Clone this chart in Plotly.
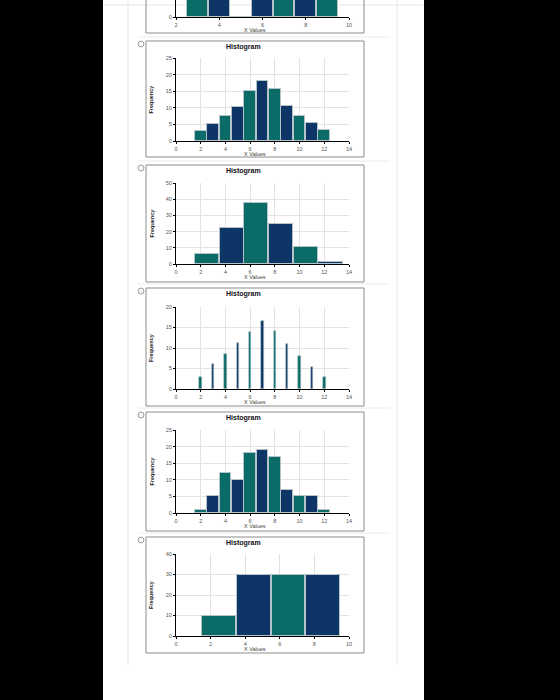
import plotly.graph_objects as go

# values (bin centres and frequencies per histogram)
p0_x = [3, 4, 5, 6, 7, 8, 9]
p0_y = [20, 22, 0, 24, 26, 24, 22]     # tops are cut off in the picture

p1_x = [2, 3, 4, 5, 6, 7, 8, 9, 10, 11, 12]
p1_y = [3, 5, 7.4, 10.1, 15.1, 18, 15.7, 10.4, 7.6, 5.4, 3.2]

p2_x = [2.5, 4.5, 6.5, 8.5, 10.5, 12.5]
p2_y = [6, 22, 37.4, 24.4, 10.2, 1.2]

p3_x = [2, 3, 4, 5, 6, 7, 8, 9, 10, 11, 12]
p3_y = [3, 6.2, 8.5, 11.1, 14, 16.6, 14.2, 11, 8, 5.4, 3]

p4_x = [2, 3, 4, 5, 6, 7, 8, 9, 10, 11, 12]
p4_y = [1, 5, 12, 10, 18, 19, 17, 7, 5, 5, 1]

p5_x = [2.5, 4.5, 6.5, 8.5]
p5_y = [10, 30, 30, 30]

TEAL = "#0b6b67"
NAVY = "#0d3566"
W, H = 560, 700


def fx(px):
    return px / W


def fy(py):
    return 1 - py / H


# (x, y, bar width, x range, y range, y dtick, box top, box bottom, plot top, plot bottom)
panels = [
    (p0_x, p0_y, 0.95, [2, 10], [0, 8.2], 10, -83, 33, -66, 17),
    (p1_x, p1_y, 0.95, [0, 14], [0, 25], 5, 41, 157, 58, 141),
    (p2_x, p2_y, 1.95, [0, 14], [0, 50], 10, 165, 282, 183, 264),
    (p3_x, p3_y, 0.2, [0, 14], [0, 20], 5, 288, 406, 307, 389),
    (p4_x, p4_y, 0.95, [0, 14], [0, 25], 5, 412, 531, 430, 513),
    (p5_x, p5_y, 1.95, [0, 10], [0, 40], 10, 537, 653, 554, 636),
]

fig = go.Figure()
shapes = []
annotations = []
lay = {}

# page: black sides, white sheet, faint container lines
shapes.append(dict(type="rect", xref="paper", yref="paper", x0=fx(103), x1=fx(424),
                   y0=0, y1=1, fillcolor="white", line_width=0, layer="below"))
for lx in (128, 397):
    shapes.append(dict(type="line", xref="paper", yref="paper", x0=fx(lx), x1=fx(lx),
                       y0=fy(665), y1=1, line=dict(color="#e6e6e6", width=1), layer="below"))
shapes.append(dict(type="line", xref="paper", yref="paper", x0=fx(104), x1=fx(423),
                   y0=fy(5), y1=fy(5), line=dict(color="#e6e6e6", width=1), layer="below"))


def label(text, x, y, size, color, angle=0):
    annotations.append(dict(text=text, xref="paper", yref="paper", x=fx(x), y=fy(y),
                            xanchor="center", yanchor="middle", showarrow=False,
                            textangle=angle, borderpad=0,
                            font=dict(family="Liberation Sans", size=size, color=color)))


for i, (xs, ys, bw, xr, yr, dt, bt, bb, pt, pb) in enumerate(panels):
    n = "" if i == 0 else str(i + 1)
    colors = [TEAL if k % 2 == 0 else NAVY for k in range(len(xs))]
    fig.add_trace(go.Bar(
        x=xs, y=ys, width=bw, xaxis="x" + n, yaxis="y" + n,
        marker=dict(color=colors,
                    line=dict(color="#b4c2ca", width=0.6 if bw < 0.5 else 1)),
        showlegend=False, hoverinfo="skip",
    ))
    tickfont = dict(family="Liberation Sans", size=5.5, color="#555")
    common = dict(
        showgrid=True, gridcolor="#e2e2e2", gridwidth=1, zeroline=False,
        showline=True, linecolor="black", linewidth=1, fixedrange=True,
        automargin=False,
        ticks="outside", ticklen=2, tickcolor="black", tickfont=tickfont,
    )
    lay["xaxis" + n] = dict(domain=[fx(176), fx(349)], anchor="y" + n,
                            range=xr, dtick=2, **common)
    lay["yaxis" + n] = dict(domain=[fy(pb), min(1, fy(pt))], anchor="x" + n,
                            range=yr, dtick=dt, **common)
    # panel frame
    shapes.append(dict(type="rect", xref="paper", yref="paper", x0=fx(146), x1=fx(364),
                       y0=fy(bb), y1=fy(bt), line=dict(color="#8c8c8c", width=1),
                       fillcolor="rgba(0,0,0,0)", layer="below"))
    # separator line, radio button and labels
    if bt > 0:
        shapes.append(dict(type="line", xref="paper", yref="paper", x0=fx(138), x1=fx(390),
                           y0=fy(bt - 4), y1=fy(bt - 4),
                           line=dict(color="#ececec", width=1), layer="below"))
        shapes.append(dict(type="circle", xref="paper", yref="paper",
                           x0=fx(138), x1=fx(144), y0=fy(bt + 6), y1=fy(bt),
                           line=dict(color="#a0a0a0", width=1), fillcolor="#f4f4f4"))
        label("<b>Histogram</b>", 243, bt + 6, 7, "#111")
        label("<b>Frequency</b>", 151, (pt + pb) / 2, 5.5, "#222", angle=-90)
    label("X Values", 255, pb + 12.5, 5.5, "#444")

fig.update_layout(
    autosize=True, margin=dict(l=0, r=0, t=0, b=0, pad=0, autoexpand=False),
    paper_bgcolor="black", plot_bgcolor="white",
    shapes=shapes, annotations=annotations, bargap=0,
    **lay,
)

# page background behind the figure mirrors the black/white/black sheet
fig.write_html(
    "out.html",
    config={"displayModeBar": False, "responsive": True},
    default_width="100vw", default_height="100vh",
    post_script="document.documentElement.style.margin='0px';"
                "document.documentElement.style.overflow='hidden';"
                "document.body.style.margin='0px';"
                "document.body.style.background='linear-gradient(to right, black 18.4%, "
                "white 18.4%, white 75.7%, black 75.7%)';",
)
